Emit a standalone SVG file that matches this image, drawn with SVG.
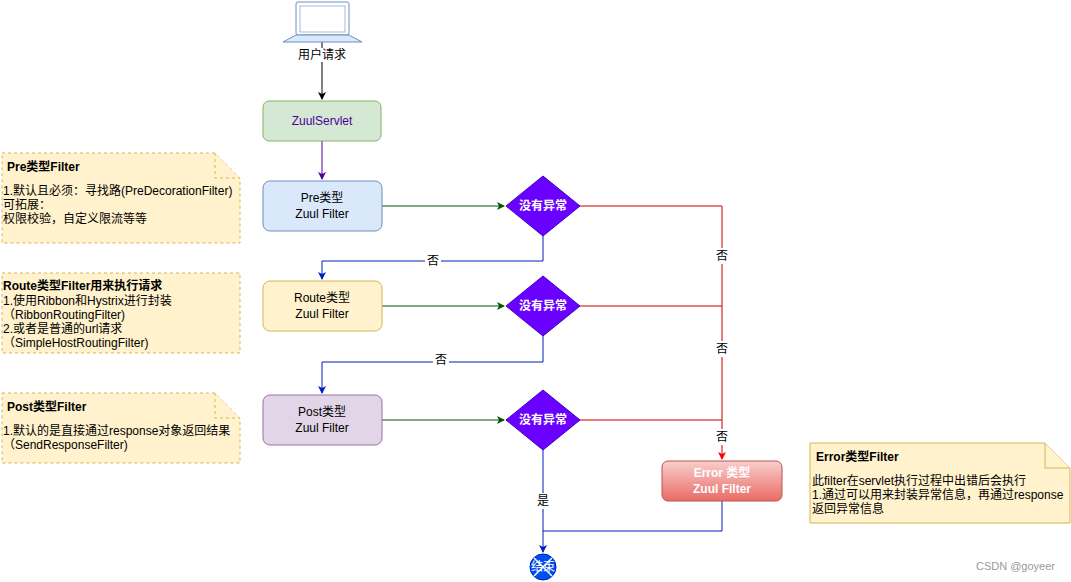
<svg xmlns="http://www.w3.org/2000/svg" width="1071" height="582" viewBox="0 0 1071 582">
<style>
text{font-family:"Liberation Sans","Noto Sans CJK SC",sans-serif;font-size:12px;fill:#000}
.c{text-anchor:middle}
.w{fill:#fff;font-weight:bold}
.nt{fill:#fff2cc;stroke:#d6b656}
.d{stroke-dasharray:3 3}
.dm{fill:#6a00ff;stroke:#3700cc}
.g{stroke:#005700;fill:none;stroke-width:1}
.r{stroke:#cc0000;fill:none}
.b{stroke:#001dbc;fill:none}
.lb{fill:#fff}
</style>
<defs>
<marker id="ak" markerWidth="8" markerHeight="8" refX="7" refY="4" orient="auto" markerUnits="userSpaceOnUse"><path d="M0,0L8,4L0,8L2,4z" fill="#000"/></marker>
<marker id="ap" markerWidth="8" markerHeight="8" refX="7" refY="4" orient="auto" markerUnits="userSpaceOnUse"><path d="M0,0L8,4L0,8L2,4z" fill="#4c0099"/></marker>
<marker id="ag" markerWidth="8" markerHeight="8" refX="7" refY="4" orient="auto" markerUnits="userSpaceOnUse"><path d="M0,0L8,4L0,8L2,4z" fill="#005700"/></marker>
<marker id="ar" markerWidth="8" markerHeight="8" refX="7" refY="4" orient="auto" markerUnits="userSpaceOnUse"><path d="M0,0L8,4L0,8L2,4z" fill="#ff0000"/></marker>
<marker id="ab" markerWidth="8" markerHeight="8" refX="7" refY="4" orient="auto" markerUnits="userSpaceOnUse"><path d="M0,0L8,4L0,8L2,4z" fill="#001dbc"/></marker>
<linearGradient id="eg" x1="0" y1="0" x2="0" y2="1"><stop offset="0" stop-color="#f8cecc"/><stop offset="1" stop-color="#ea6b66"/></linearGradient>
</defs>
<rect width="1071" height="582" fill="#fff"/>
<g id="connectors">
<path d="M322,42V99" stroke="#000" fill="none" marker-end="url(#ak)"/>
<path d="M322,141V179" stroke="#4c0099" fill="none" marker-end="url(#ap)"/>
<path class="g" d="M382,206H504" marker-end="url(#ag)"/>
<path class="g" d="M382,306H504" marker-end="url(#ag)"/>
<path class="g" d="M382,420H504" marker-end="url(#ag)"/>
<path class="r" d="M580,206H722V459" marker-end="url(#ar)"/>
<path class="r" d="M580,306H722"/>
<path class="r" d="M580,420H722"/>
<path class="b" d="M543,236V261H322V279" marker-end="url(#ab)"/>
<path class="b" d="M543,335V362H322V393" marker-end="url(#ab)"/>
<path class="b" d="M543,450V552" marker-end="url(#ab)"/>
<path class="b" d="M722,501V531H543"/>
<rect class="lb" x="425" y="253" width="16" height="16"/><text class="c" x="433" y="265">否</text>
<rect class="lb" x="433" y="352" width="16" height="16"/><text class="c" x="441" y="364">否</text>
<rect class="lb" x="714" y="248" width="16" height="16"/><text class="c" x="722" y="260">否</text>
<rect class="lb" x="714" y="341" width="16" height="16"/><text class="c" x="722" y="353">否</text>
<rect class="lb" x="714" y="429" width="16" height="16"/><text class="c" x="722" y="441">否</text>
<rect class="lb" x="535" y="493" width="16" height="16"/><text class="c" x="543" y="505">是</text>
</g>
<g id="user">
<rect x="296" y="2" width="53" height="33" rx="2" fill="#fff" stroke="#6c8ebf"/>
<rect x="300" y="6" width="45" height="26" fill="#fff" stroke="#6c8ebf" stroke-width="0.6"/>
<path d="M296,35H349L362,42H283Z" fill="#dae8fc" stroke="#6c8ebf"/>
<rect x="296" y="48" width="52" height="14" fill="#fff"/>
<text class="c" x="322" y="59">用户请求</text>
</g>
<g id="servlet"><rect x="263" y="101" width="118" height="40" rx="6" fill="#d5e8d4" stroke="#82b366"/><text class="c" x="322" y="125" style="fill:#4c0099">ZuulServlet</text></g>
<g id="pre"><rect x="263" y="181" width="119" height="50" rx="7" fill="#dae8fc" stroke="#6c8ebf"/><text class="c" x="322" y="202">Pre类型</text><text class="c" x="322" y="218">Zuul Filter</text></g>
<g id="route"><rect x="263" y="281" width="119" height="50" rx="7" fill="#fff2cc" stroke="#d6b656"/><text class="c" x="322" y="302">Route类型</text><text class="c" x="322" y="318">Zuul Filter</text></g>
<g id="post"><rect x="263" y="395" width="119" height="50" rx="7" fill="#e1d5e7" stroke="#9673a6"/><text class="c" x="322" y="416">Post类型</text><text class="c" x="322" y="432">Zuul Filter</text></g>
<g id="d1"><path class="dm" d="M543,176L580,206L543,236L506,206Z"/><text class="c w" x="543" y="210">没有异常</text></g>
<g id="d2"><path class="dm" d="M543,276L580,306L543,336L506,306Z"/><text class="c w" x="543" y="310">没有异常</text></g>
<g id="d3"><path class="dm" d="M543,390L580,420L543,450L506,420Z"/><text class="c w" x="543" y="424">没有异常</text></g>
<g id="error"><rect x="662" y="461" width="120" height="40" rx="6" fill="url(#eg)" stroke="#b85450"/><text class="c w" x="722" y="477">Error 类型</text><text class="c w" x="722" y="493">Zuul Filter</text></g>
<g id="end"><circle cx="543" cy="567" r="13" fill="#0050ef" stroke="#001dbc"/><path d="M534,558L552,576M552,558L534,576" stroke="#fff" stroke-width="1.5"/><text class="c" x="543" y="571" style="fill:#fff">结束</text></g>
<g id="notePre"><path class="nt d" d="M2,153H215L240,178V243H2Z"/><path class="nt d" d="M215,153V178H240" fill="none"/><text x="7" y="171" font-weight="bold">Pre类型Filter</text><text x="3" y="195">1.默认且必须：寻找路(PreDecorationFilter)</text><text x="3" y="209">可拓展：</text><text x="3" y="223">权限校验，自定义限流等等</text></g>
<g id="noteRoute"><rect class="nt d" x="2" y="273" width="238" height="80"/><text x="3" y="290" font-weight="bold">Route类型Filter用来执行请求</text><text x="3" y="305">1.使用Ribbon和Hystrix进行封装</text><text x="3" y="319">（RibbonRoutingFilter)</text><text x="3" y="333">2.或者是普通的url请求</text><text x="3" y="347">（SimpleHostRoutingFilter)</text></g>
<g id="notePost"><path class="nt d" d="M2,393H215L240,418V463H2Z"/><path class="nt d" d="M215,393V418H240" fill="none"/><text x="7" y="411" font-weight="bold">Post类型Filter</text><text x="3" y="435">1.默认的是直接通过response对象返回结果</text><text x="3" y="449">（SendResponseFilter)</text></g>
<g id="noteError"><path class="nt" d="M810,443H1045L1070,468V523H810Z"/><path class="nt" d="M1045,443V468H1070" fill="none"/><text x="816" y="461" font-weight="bold">Error类型Filter</text><text x="812" y="485">此filter在servlet执行过程中出错后会执行</text><text x="812" y="499">1.通过可以用来封装异常信息，再通过response</text><text x="812" y="513">返回异常信息</text></g>
<text x="1055" y="570" text-anchor="end" style="fill:#999;font-size:11px">CSDN @goyeer</text>
</svg>
